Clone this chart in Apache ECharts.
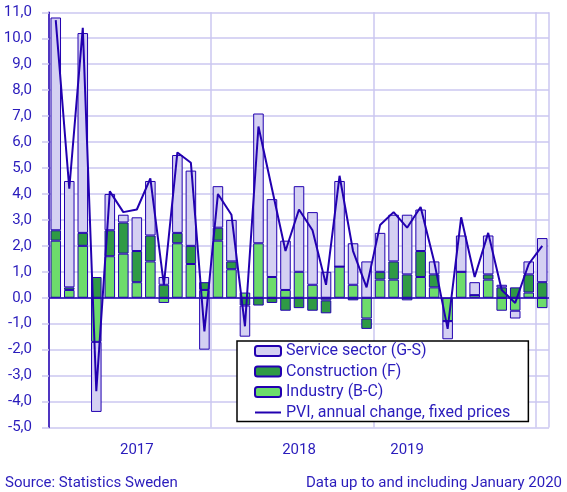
<!DOCTYPE html>
<html>
<head>
<meta charset="utf-8">
<script src="https://cdn.jsdelivr.net/npm/echarts@6/dist/echarts.min.js"></script>
<style>
  html, body { margin: 0; padding: 0; background: #fff; }
  #chart { width: 567px; height: 492px; }
</style>
</head>
<body>
<div id="chart"></div>
<script>
// Months, January 2017 to January 2020
var months = [
  '2017M01','2017M02','2017M03','2017M04','2017M05','2017M06','2017M07','2017M08','2017M09','2017M10','2017M11','2017M12',
  '2018M01','2018M02','2018M03','2018M04','2018M05','2018M06','2018M07','2018M08','2018M09','2018M10','2018M11','2018M12',
  '2019M01','2019M02','2019M03','2019M04','2019M05','2019M06','2019M07','2019M08','2019M09','2019M10','2019M11','2019M12',
  '2020M01'
];

// Which months carry a year label on the x axis
var yearLabelIndex = [6, 18, 26];
var yearLabelText = ['2017', '2018', '2019'];

// Contributions to the annual change, percentage points
var industry = [
  2.2, 0.3, 2.0, -1.7, 1.6, 1.7, 0.6, 1.4, -0.2, 2.1, 1.3, 0.3,
  2.2, 1.1, 0.2, 2.1, 0.8, 0.3, 1.0, 0.5, -0.1, 1.2, 0.5, -0.8,
  0.7, 0.7, -0.1, 0.8, 0.4, -0.9, 1.0, 0.1, 0.7, -0.5, -0.5, 0.2, -0.4
];
var construction = [
  0.4, 0.1, 0.5, 0.8, 1.0, 1.2, 1.2, 1.0, 0.5, 0.4, 0.7, 0.3,
  0.5, 0.3, -0.3, -0.3, -0.2, -0.5, -0.4, -0.5, -0.5, 0, -0.1, -0.4,
  0.3, 0.7, 0.9, 1.0, 0.5, 0, 0, 0, 0.2, 0.4, 0.4, 0.7, 0.6
];
var service = [
  8.2, 4.1, 7.7, -2.7, 1.4, 0.3, 1.3, 2.1, 0.3, 3.0, 2.9, -2.0,
  1.6, 1.6, -1.2, 5.0, 3.0, 1.9, 3.3, 2.8, 1.0, 3.3, 1.6, 1.4,
  1.5, 1.8, 2.3, 1.6, 0.5, -0.7, 1.4, 0.5, 1.5, 0.1, -0.3, 0.5, 1.7
];
// PVI, annual change, fixed prices
var pvi = [
  10.7, 4.2, 10.4, -3.6, 4.1, 3.3, 3.4, 4.6, 0.5, 5.6, 5.2, -1.3,
  4.0, 3.2, -1.1, 6.6, 4.2, 1.8, 3.4, 2.6, 0.5, 4.7, 1.8, 0.4,
  2.8, 3.3, 2.7, 3.5, 1.4, -1.2, 3.1, 0.8, 2.5, 0.3, -0.2, 1.3, 2.0
];

var blue = '#2200b0';
var textBlue = '#2a1cbc';
var gridColor = '#cbc7f0';
var font = 'Roboto, "Liberation Sans", sans-serif';

// common bar look
function barSeries(name, data, color) {
  return {
    name: name,
    type: 'bar',
    stack: 'pvi',
    data: data,
    barCategoryGap: '22%',
    itemStyle: { color: color, borderColor: blue, borderWidth: 1 }
  };
}

var option = {
  animation: false,
  textStyle: { fontFamily: font },
  grid: { left: 49, right: 18, top: 12.3, bottom: 64.5 },
  legend: {
    orient: 'vertical',
    left: 237,
    top: 341,
    padding: [1, 18, 0, 17],
    itemGap: 2.5,
    itemWidth: 26,
    itemHeight: 10,
    borderColor: '#000',
    borderWidth: 1.5,
    backgroundColor: '#fff',
    textStyle: { color: textBlue, fontSize: 16, lineHeight: 18, fontFamily: font },
    data: [
      'Service sector (G-S)',
      'Construction (F)',
      'Industry (B-C)',
      // thin bar icon: the extra move-to points keep the full 10px box so the stroke stays 2px
      { name: 'PVI, annual change, fixed prices',
        icon: 'path://M0,0M0,10M0,4L26,4L26,6L0,6Z',
        itemStyle: { color: blue, borderWidth: 0 } }
    ]
  },
  xAxis: {
    type: 'category',
    data: months,
    axisLine: { show: false },
    axisTick: { show: false },
    splitLine: { show: true, interval: 11, lineStyle: { color: gridColor, width: 1.5 } },
    axisLabel: {
      color: textBlue,
      fontSize: 15,
      margin: 15,
      fontFamily: font,
      interval: function (idx) { return yearLabelIndex.indexOf(idx) >= 0; },
      formatter: function (val, idx) {
        var k = yearLabelIndex.indexOf(idx);
        return k >= 0 ? yearLabelText[k] : '';
      }
    }
  },
  yAxis: {
    type: 'value',
    min: -5,
    max: 11,
    interval: 1,
    axisLine: { show: true, lineStyle: { color: blue, width: 1.5 } },
    axisTick: { show: true, length: 7, lineStyle: { color: gridColor, width: 1.5 } },
    splitLine: { lineStyle: { color: gridColor, width: 1.5 } },
    axisLabel: {
      color: textBlue,
      fontSize: 15,
      margin: 17,
      fontFamily: font,
      formatter: function (v) { return v.toFixed(1).replace('.', ','); }
    }
  },
  series: [
    barSeries('Industry (B-C)', industry, '#6ddc6b'),
    barSeries('Construction (F)', construction, '#2f9a45'),
    barSeries('Service sector (G-S)', service, '#d4d0f2'),
    {
      name: 'PVI, annual change, fixed prices',
      type: 'line',
      data: pvi,
      symbol: 'none',
      z: 5,
      lineStyle: { color: blue, width: 2 },
      itemStyle: { color: blue },
      markLine: {
        silent: true,
        symbol: 'none',
        label: { show: false },
        lineStyle: { color: blue, width: 1.5, type: 'solid' },
        data: [{ yAxis: 0 }]
      }
    }
  ],
  title: [
    { text: 'Source: Statistics Sweden', left: 0, top: 471,
      textStyle: { color: textBlue, fontSize: 15, fontWeight: 'normal', fontFamily: font } },
    { text: 'Data up to and including January 2020', right: 0, top: 471,
      textStyle: { color: textBlue, fontSize: 15, fontWeight: 'normal', fontFamily: font } }
  ]
};

echarts.init(document.getElementById('chart')).setOption(option);
</script>
</body>
</html>
